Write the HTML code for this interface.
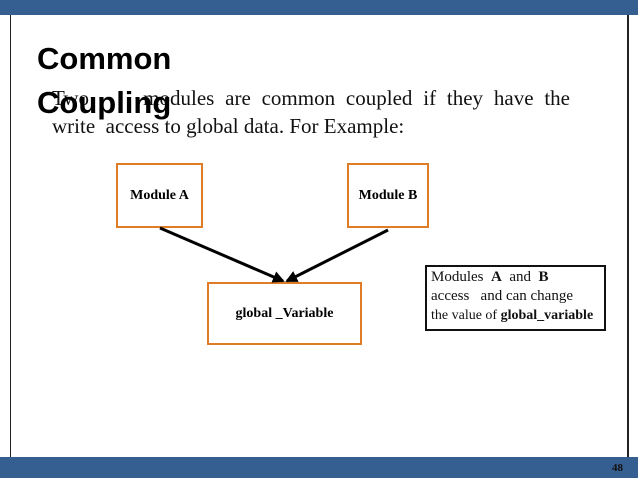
<!DOCTYPE html>
<html><head><style>
body{margin:0;width:638px;height:478px;position:relative;background:#fff;overflow:hidden;font-family:"Liberation Serif",serif}
.a{position:absolute}
.box{position:absolute;border:2px solid #e07b26;box-sizing:border-box;display:flex;align-items:center;justify-content:center;font-weight:bold;font-size:14px}
</style></head><body>
<div class="a" style="left:0;top:0;width:638px;height:15px;background:#365f91"></div>
<div class="a" style="left:0;top:457px;width:638px;height:21px;background:#365f91"></div>
<div class="a" style="left:10px;top:15px;width:1px;height:442px;background:#222"></div>
<div class="a" style="left:627px;top:15px;width:2px;height:442px;background:#222"></div>
<div class="a" style="left:612px;top:462px;font-size:11px;font-weight:bold;color:#111">48</div>
<div class="a" style="left:52px;top:86px;width:518px;font-size:21px;text-align:justify;text-align-last:justify;color:#111">Two &nbsp; &nbsp; modules are common coupled if they have the</div>
<div class="a" style="left:52px;top:114px;font-size:21px;color:#111">write&nbsp; access to global data. For Example:</div>
<div class="a" style="left:37px;top:37px;font-family:'Liberation Sans',sans-serif;font-weight:bold;font-size:31px;line-height:44px;color:#000">Common<br>Coupling</div>
<div class="box" style="left:116px;top:163px;width:87px;height:65px">Module A</div>
<div class="box" style="left:347px;top:163px;width:82px;height:65px">Module B</div>
<div class="box" style="left:207px;top:282px;width:155px;height:63px">global _Variable</div>
<svg class="a" style="left:0;top:0" width="638" height="478">
<defs><marker id="m" markerWidth="12" markerHeight="12" refX="10" refY="6" orient="auto" markerUnits="userSpaceOnUse" viewBox="0 0 12 12"><path d="M0,0 L12,6 L0,12 z" fill="#000"/></marker></defs>
<line x1="160" y1="228" x2="283" y2="281" stroke="#000" stroke-width="3" marker-end="url(#m)"/>
<line x1="388" y1="230" x2="287" y2="281" stroke="#000" stroke-width="3" marker-end="url(#m)"/>
</svg>
<div class="a" style="left:425px;top:265px;width:181px;height:66px;border:2px solid #111;box-sizing:border-box;padding:1px 0 0 4px;font-size:15px;line-height:19px;color:#111;white-space:nowrap">Modules &nbsp;<b>A</b>&nbsp; and &nbsp;<b>B</b><br>access &nbsp; and can change<br><span style="font-size:14px">the value of <b>global_variable</b></span></div>
</body></html>
